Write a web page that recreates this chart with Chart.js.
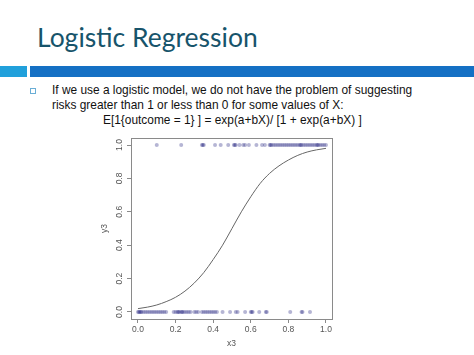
<!DOCTYPE html>
<html>
<head>
<meta charset="utf-8">
<script src="https://cdn.jsdelivr.net/npm/chart.js@4.4.1/dist/chart.umd.min.js"></script>
<style>
  body { margin: 0; width: 474px; height: 355px; background: #fff; position: relative; overflow: hidden; }
  .title { position: absolute; left: 37px; top: 21px; font-family: Lato, "Open Sans", sans-serif; font-size: 26.5px; color: #17546b; white-space: nowrap; }
  .bar-light { position: absolute; left: 0; top: 66px; width: 27px; height: 11px; background: #21a0db; }
  .bar-dark { position: absolute; left: 30px; top: 66px; width: 444px; height: 11px; background: #1570c4; }
  .bullet { position: absolute; left: 30px; top: 88px; width: 4px; height: 4px; border: 1px solid #6aaed6; }
  .text { position: absolute; font-family: "Liberation Sans", Arial, sans-serif; font-size: 11.9px; color: #111; white-space: nowrap; }
  #wrap { position: absolute; left: 95px; top: 130px; width: 250px; height: 225px; }
</style>
</head>
<body>
<div class="title">Logistic Regression</div>
<div class="bar-light"></div>
<div class="bar-dark"></div>
<div class="bullet"></div>
<div class="text" style="left:52px; top:83px;">If we use a logistic model, we do not have the problem of suggesting</div>
<div class="text" style="left:52px; top:98px;">risks greater than 1 or less than 0 for some values of X:</div>
<div class="text" style="left:103px; top:113px;">E[1{outcome = 1} ] = exp(a+bX)/ [1 + exp(a+bX) ]</div>
<div id="wrap"><canvas id="logitChart"></canvas></div>
<script>
// observed x3 values where y3 = 1
const onesX = [0.10, 0.23, 0.34, 0.345, 0.35, 0.41, 0.44, 0.48, 0.51, 0.515, 0.52, 0.54, 0.56, 0.57, 0.59,
  0.63, 0.66, 0.675, 0.70, 0.705, 0.71, 0.72, 0.73, 0.74, 0.75, 0.76, 0.77, 0.78, 0.79, 0.80, 0.81, 0.82,
  0.83, 0.84, 0.85, 0.86, 0.865, 0.87, 0.88, 0.89, 0.90, 0.91, 0.92, 0.93, 0.94, 0.95, 0.955, 0.96, 0.97, 0.98, 0.99, 1.0];
// observed x3 values where y3 = 0
const zerosX = [0.0, 0.005, 0.01, 0.015, 0.02, 0.03, 0.04, 0.05, 0.06, 0.07, 0.08, 0.09, 0.10, 0.11, 0.12, 0.13, 0.14, 0.15,
  0.19, 0.20, 0.21, 0.215, 0.22, 0.23, 0.235, 0.24, 0.25, 0.26, 0.27, 0.28, 0.30, 0.31, 0.32, 0.34, 0.35, 0.36, 0.37,
  0.38, 0.39, 0.40, 0.41, 0.42, 0.45, 0.49, 0.52, 0.53, 0.57, 0.60, 0.605, 0.61, 0.645, 0.68, 0.685, 0.81, 0.87, 0.875, 0.915];
// fitted curve
const curveX = [0, 0.05, 0.1, 0.15, 0.2, 0.25, 0.3, 0.35, 0.4, 0.45, 0.5, 0.55, 0.6, 0.65, 0.7, 0.75, 0.8, 0.85, 0.9, 0.95, 1.0];
const curveY = [0.02, 0.029, 0.042, 0.062, 0.088, 0.125, 0.174, 0.236, 0.314, 0.40, 0.5, 0.60, 0.69, 0.77, 0.83, 0.875, 0.91, 0.938, 0.958, 0.971, 0.98];
const tickVals = [0, 0.2, 0.4, 0.6, 0.8, 1.0];

const boxPlugin = {
    id: 'box',
    afterDraw(chart) {
        const a = chart.chartArea;
        const ctx = chart.ctx;
        ctx.save();
        ctx.strokeStyle = '#8a8a8a';
        ctx.lineWidth = 1;
        ctx.strokeRect(Math.round(a.left) + 0.5, Math.round(a.top) + 0.5, Math.round(a.right - a.left), Math.round(a.bottom - a.top));
        ctx.restore();
    }
};

const dotColor = 'rgba(30, 30, 125, 0.33)';
const axisFont = { family: '"Liberation Sans", Arial, sans-serif', size: 8.5 };

new Chart(document.getElementById('logitChart'), {
    type: 'scatter',
    data: {
        datasets: [
            {
                data: onesX.map(x => ({ x: x, y: 1 })),
                backgroundColor: dotColor,
                borderWidth: 0,
                pointRadius: 2
            },
            {
                data: zerosX.map(x => ({ x: x, y: 0 })),
                backgroundColor: dotColor,
                borderWidth: 0,
                pointRadius: 2
            },
            {
                type: 'line',
                data: curveX.map((x, i) => ({ x: x, y: curveY[i] })),
                borderColor: '#666',
                borderWidth: 1,
                pointRadius: 0,
                cubicInterpolationMode: 'monotone',
                fill: false
            }
        ]
    },
    options: {
        responsive: true,
        maintainAspectRatio: false,
        animation: false,
        layout: { padding: { top: 8, right: 13, left: 0, bottom: 0 } },
        plugins: { legend: { display: false }, tooltip: { enabled: false } },
        scales: {
            x: {
                type: 'linear',
                min: -0.037,
                max: 1.032,
                afterBuildTicks: s => { s.ticks = tickVals.map(v => ({ value: v })); },
                afterFit: s => { s.height = 36; },
                grid: { drawOnChartArea: false, tickLength: 4, color: '#8a8a8a' },
                border: { display: false },
                ticks: { font: axisFont, color: '#555', padding: 2, maxRotation: 0, callback: v => v.toFixed(1) },
                title: { display: true, text: 'x3', font: axisFont, color: '#555', padding: { top: 4, bottom: 6 } }
            },
            y: {
                type: 'linear',
                min: -0.042,
                max: 1.042,
                afterBuildTicks: s => { s.ticks = tickVals.map(v => ({ value: v })); },
                afterFit: s => { s.width = 36; },
                grid: { drawOnChartArea: false, tickLength: 4, color: '#8a8a8a' },
                border: { display: false },
                ticks: { font: axisFont, color: '#555', padding: 1, minRotation: 90, maxRotation: 90, crossAlign: 'center', callback: v => v.toFixed(1) },
                title: { display: true, text: 'y3', font: axisFont, color: '#555', padding: { top: 5, bottom: 0 } }
            }
        }
    },
    plugins: [boxPlugin]
});
</script>
</body>
</html>
